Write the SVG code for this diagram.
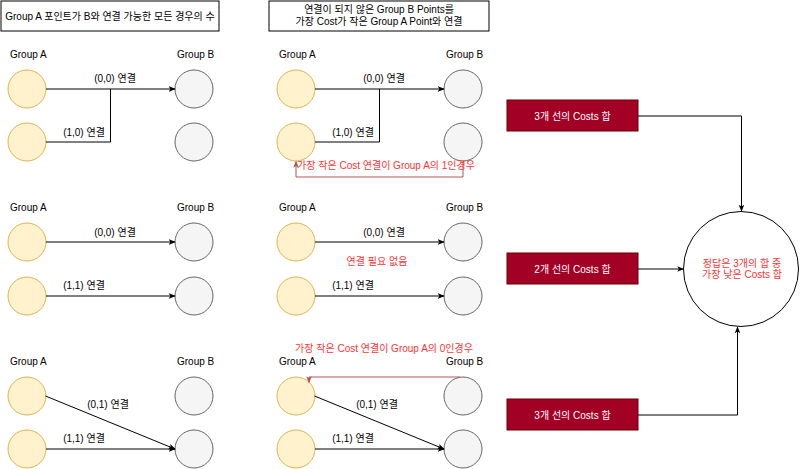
<svg xmlns="http://www.w3.org/2000/svg" width="800" height="469" viewBox="0 0 800 469">
<style>
text{font-family:"Liberation Sans","Noto Sans CJK KR",sans-serif;font-size:10px;fill:#000}
.t{text-anchor:middle}
.red{fill:#ff3333}
.w{fill:#ffffff}
.ga{fill:#fff2cc;stroke:#d6b656;stroke-width:1}
.gb{fill:#f5f5f5;stroke:#666666;stroke-width:1}
.box{fill:#ffffff;stroke:#000000;stroke-width:1}
.rbox{fill:#a20025;stroke:#6f0000;stroke-width:1}
.e{fill:none;stroke:#000;stroke-width:1;}
.er{fill:none;stroke:#b85450;stroke-width:1}
</style>
<defs>
<marker id="ar" viewBox="0 0 10 10" refX="9" refY="5" markerWidth="7" markerHeight="7" orient="auto" markerUnits="userSpaceOnUse">
<path d="M0,1 L10,5 L0,9 L2.5,5 Z" fill="#000"/>
</marker>
<marker id="arr" viewBox="0 0 10 10" refX="9" refY="5" markerWidth="7" markerHeight="7" orient="auto" markerUnits="userSpaceOnUse">
<path d="M0,1 L10,5 L0,9 L2.5,5 Z" fill="#b85450"/>
</marker>
</defs>

<g id="title1"><rect class="box" x="1" y="1" width="218" height="30"/><text class="t" x="110" y="19.5">Group A 포인트가 B와 연결 가능한 모든 경우의 수</text></g>
<g id="title2"><rect class="box" x="269" y="1" width="220" height="30"/><text class="t" x="379" y="12.5">연결이 되지 않은 Group B Points를</text><text class="t" x="379" y="25">가장 Cost가 작은 Group A Point와 연결</text></g>

<!-- panel labels -->
<g id="labels">
<text x="10" y="58">Group A</text><text x="177" y="58">Group B</text>
<text x="279" y="58">Group A</text><text x="446" y="58">Group B</text>
<text x="10" y="211">Group A</text><text x="177" y="211">Group B</text>
<text x="279" y="211">Group A</text><text x="446" y="211">Group B</text>
<text x="10" y="365">Group A</text><text x="177" y="365">Group B</text>
<text x="279" y="365">Group A</text><text x="446" y="365">Group B</text>
</g>

<g id="nodes">
<g id="p1r1a0"><circle class="ga" cx="27" cy="89" r="19"/></g>
<g id="p1r1a1"><circle class="ga" cx="27" cy="142" r="19"/></g>
<g id="p1r1b0"><circle class="gb" cx="194" cy="89" r="19"/></g>
<g id="p1r1b1"><circle class="gb" cx="194" cy="142" r="19"/></g>
<g id="p2r1a0"><circle class="ga" cx="296" cy="89" r="19"/></g>
<g id="p2r1a1"><circle class="ga" cx="296" cy="142" r="19"/></g>
<g id="p2r1b0"><circle class="gb" cx="463" cy="89" r="19"/></g>
<g id="p2r1b1"><circle class="gb" cx="463" cy="142" r="19"/></g>

<g id="p1r2a0"><circle class="ga" cx="27" cy="242" r="19"/></g>
<g id="p1r2a1"><circle class="ga" cx="27" cy="296" r="19"/></g>
<g id="p1r2b0"><circle class="gb" cx="194" cy="242" r="19"/></g>
<g id="p1r2b1"><circle class="gb" cx="194" cy="296" r="19"/></g>
<g id="p2r2a0"><circle class="ga" cx="296" cy="242" r="19"/></g>
<g id="p2r2a1"><circle class="ga" cx="296" cy="296" r="19"/></g>
<g id="p2r2b0"><circle class="gb" cx="463" cy="242" r="19"/></g>
<g id="p2r2b1"><circle class="gb" cx="463" cy="296" r="19"/></g>

<g id="p1r3a0"><circle class="ga" cx="27" cy="396" r="19"/></g>
<g id="p1r3a1"><circle class="ga" cx="27" cy="449" r="19"/></g>
<g id="p1r3b0"><circle class="gb" cx="194" cy="396" r="19"/></g>
<g id="p1r3b1"><circle class="gb" cx="194" cy="449" r="19"/></g>
<g id="p2r3a0"><circle class="ga" cx="296" cy="396" r="19"/></g>
<g id="p2r3a1"><circle class="ga" cx="296" cy="449" r="19"/></g>
<g id="p2r3b0"><circle class="gb" cx="463" cy="396" r="19"/></g>
<g id="p2r3b1"><circle class="gb" cx="463" cy="449" r="19"/></g>

<g id="box1"><rect class="rbox" x="507" y="100" width="131" height="31"/><text class="t w" x="572.5" y="119.5">3개 선의 Costs 합</text></g>
<g id="box2"><rect class="rbox" x="507" y="253" width="131" height="31"/><text class="t w" x="572.5" y="272.5">2개 선의 Costs 합</text></g>
<g id="box3"><rect class="rbox" x="507" y="399" width="131" height="31"/><text class="t w" x="572.5" y="418.5">3개 선의 Costs 합</text></g>
<g id="answer"><circle cx="741" cy="269" r="57.5" fill="#ffffff" stroke="#000" stroke-width="1"/><text class="t red" x="742" y="266.5">정답은 3개의 합 중</text><text class="t red" x="742" y="278">가장 낮은 Costs 합</text></g>
</g>

<g id="connectors">
<path class="e" d="M46,89 H175" marker-end="url(#ar)"/>
<path class="e" d="M46,142 H110.5 V89"/>
<path class="e" d="M315,89 H444" marker-end="url(#ar)"/>
<path class="e" d="M315,142 H379.5 V89"/>
<path class="er" d="M463,161 V177 H296 V161.5" marker-end="url(#arr)"/>

<path class="e" d="M46,242 H175" marker-end="url(#ar)"/>
<path class="e" d="M46,296 H175" marker-end="url(#ar)"/>
<path class="e" d="M315,242 H444" marker-end="url(#ar)"/>
<path class="e" d="M315,296 H444" marker-end="url(#ar)"/>

<path class="e" d="M45.5,396 L175,449" marker-end="url(#ar)"/>
<path class="e" d="M46,449 H175" marker-end="url(#ar)"/>
<path class="e" d="M314.5,396 L444,449" marker-end="url(#ar)"/>
<path class="e" d="M315,449 H444" marker-end="url(#ar)"/>
<path class="er" d="M460,377 H309 V382.5" marker-end="url(#arr)"/>

<path class="e" d="M638,116 H741.5 V211" marker-end="url(#ar)"/>
<path class="e" d="M638,269 H683.5" marker-end="url(#ar)"/>
<path class="e" d="M638,415 H737.5 V327" marker-end="url(#ar)"/>

<text class="t" x="115" y="81.5">(0,0) 연결</text>
<text class="t" x="84" y="135.5">(1,0) 연결</text>
<text class="t" x="384" y="81.5">(0,0) 연결</text>
<text class="t" x="353" y="135.5">(1,0) 연결</text>
<text class="t red" x="386" y="168.5">가장 작은 Cost 연결이 Group A의 1인경우</text>

<text class="t" x="115" y="235.5">(0,0) 연결</text>
<text class="t" x="84" y="288.5">(1,1) 연결</text>
<text class="t" x="384" y="235.5">(0,0) 연결</text>
<text class="t" x="353" y="288.5">(1,1) 연결</text>
<text class="t red" x="377" y="264.5">연결 필요 없음</text>

<text class="t" x="108" y="407.5">(0,1) 연결</text>
<text class="t" x="84" y="441.5">(1,1) 연결</text>
<text class="t" x="377" y="407.5">(0,1) 연결</text>
<text class="t" x="353" y="441.5">(1,1) 연결</text>
<text class="t red" x="384" y="351.5">가장 작은 Cost 연결이 Group A의 0인경우</text>
</g>
</svg>
